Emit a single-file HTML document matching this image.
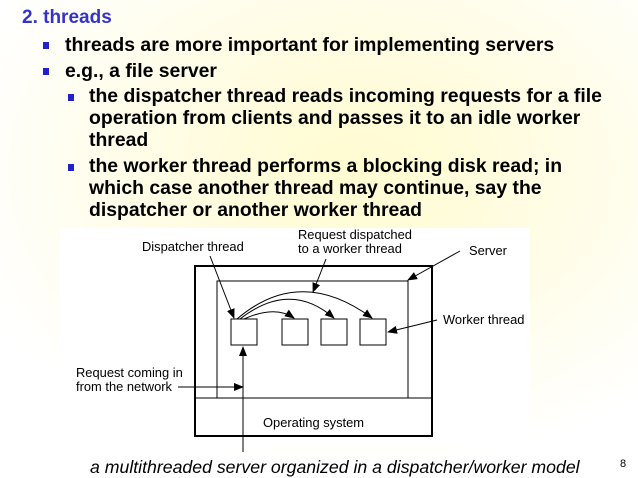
<!DOCTYPE html>
<html><head><style>
body{margin:0;width:638px;height:478px;overflow:hidden;background:radial-gradient(ellipse 420px 300px at 360px 170px,#fffbd0 0%,#fffde8 55%,#ffffff 100%);font-family:"Liberation Sans",sans-serif;position:relative}
.t{position:absolute;font-weight:bold;font-size:19.4px;color:#000;white-space:nowrap}
.b{position:absolute;width:6px;height:7px;background:#2222cc}
</style></head><body>
<div class="t" style="left:22px;top:7px;color:#3333cc;font-size:19px">2. threads</div>
<div class="b" style="left:43px;top:42px"></div><div class="t" style="left:65px;top:34px">threads are more important for implementing servers</div>
<div class="b" style="left:43px;top:68px"></div><div class="t" style="left:65px;top:60px">e.g., a file server</div>
<div class="b" style="left:68px;top:94px"></div>
<div class="t" style="left:89px;top:85px;line-height:22px">the dispatcher thread reads incoming requests for a file<br>operation from clients and passes it to an idle worker<br>thread</div>
<div class="b" style="left:68px;top:164px"></div>
<div class="t" style="left:89px;top:155px;line-height:22px">the worker thread performs a blocking disk read; in<br>which case another thread may continue, say the<br>dispatcher or another worker thread</div>
<svg style="position:absolute;left:0;top:0" width="638" height="478">
<defs><marker id="a" markerWidth="10" markerHeight="8" refX="9" refY="4" orient="auto" markerUnits="userSpaceOnUse"><path d="M0,0L10,4L0,8z"/></marker></defs>
<rect x="60" y="228" width="470" height="218" fill="#fff"/>
<rect x="195" y="266" width="237" height="170" fill="none" stroke="#000" stroke-width="2"/>
<path d="M217,398V281H408V398M195,398H432" fill="none" stroke="#000" stroke-width="1"/>
<g fill="#fff" stroke="#000"><rect x="231" y="319" width="26" height="26"/><rect x="282" y="319" width="26" height="26"/><rect x="321" y="319" width="26" height="26"/><rect x="360" y="319" width="26" height="26"/></g>
<g fill="none" stroke="#000" marker-end="url(#a)">
<path d="M237,319Q300,265 372,318"/><path d="M240,319Q290,280 334,318"/><path d="M244,319Q275,305 294,318"/>
<path d="M210,256L234,318"/><path d="M326,259L313,292"/><path d="M460,251L408,280"/><path d="M437,320L388,332"/><path d="M178,387L243,387"/><path d="M243,452L243,347"/>
</g>
<g font-size="12.9" font-family="Liberation Sans,sans-serif">
<text x="142" y="251">Dispatcher thread</text><text x="298" y="239">Request dispatched</text><text x="298" y="253">to a worker thread</text>
<text x="469" y="255">Server</text><text x="443" y="324">Worker thread</text><text x="76" y="377">Request coming in</text><text x="76" y="391">from the network</text>
<text x="263" y="427">Operating system</text></g>
<text x="90" y="473" font-size="17.7" font-style="italic" font-family="Liberation Sans,sans-serif">a multithreaded server organized in a dispatcher/worker model</text>
<text x="620" y="467" font-size="11" font-family="Liberation Sans,sans-serif">8</text>
</svg>
</body></html>
